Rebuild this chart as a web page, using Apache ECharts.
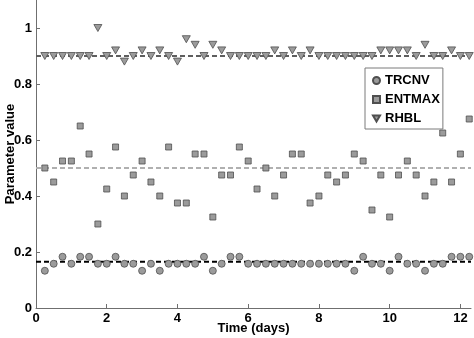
<!DOCTYPE html>
<html>
<head>
<meta charset="utf-8">
<script src="https://cdn.jsdelivr.net/npm/echarts@6/dist/echarts.min.js"></script>
<style>
  html, body { margin: 0; padding: 0; background: #fff; }
  #chart { width: 474px; height: 338px; }
</style>
</head>
<body>
<div id="chart"></div>
<script>
// Sampling times (days)
const days = [
  0.25, 0.5, 0.75, 1.0, 1.25, 1.5, 1.75, 2.0, 2.25, 2.5, 2.75, 3.0,
  3.25, 3.5, 3.75, 4.0, 4.25, 4.5, 4.75, 5.0, 5.25, 5.5, 5.75, 6.0,
  6.25, 6.5, 6.75, 7.0, 7.25, 7.5, 7.75, 8.0, 8.25, 8.5, 8.75, 9.0,
  9.25, 9.5, 9.75, 10.0, 10.25, 10.5, 10.75, 11.0, 11.25, 11.5, 11.75, 12.0,
  12.25
];

// Parameter estimates per time
const trcnv = [
  0.133, 0.158, 0.183, 0.158, 0.183, 0.183, 0.158, 0.158, 0.183, 0.158, 0.158, 0.133,
  0.158, 0.133, 0.158, 0.158, 0.158, 0.158, 0.183, 0.133, 0.158, 0.183, 0.183, 0.158,
  0.158, 0.158, 0.158, 0.158, 0.158, 0.158, 0.158, 0.158, 0.158, 0.158, 0.158, 0.133,
  0.183, 0.158, 0.158, 0.133, 0.183, 0.158, 0.158, 0.133, 0.158, 0.158, 0.183, 0.183,
  0.183
];
const entmax = [
  0.5, 0.45, 0.525, 0.525, 0.65, 0.55, 0.3, 0.425, 0.575, 0.4, 0.475, 0.525,
  0.45, 0.4, 0.575, 0.375, 0.375, 0.55, 0.55, 0.325, 0.475, 0.475, 0.575, 0.525,
  0.425, 0.5, 0.4, 0.475, 0.55, 0.55, 0.375, 0.4, 0.475, 0.45, 0.475, 0.55,
  0.525, 0.35, 0.475, 0.325, 0.475, 0.525, 0.475, 0.4, 0.45, 0.625, 0.45, 0.55,
  0.675
];
const rhbl = [
  0.9, 0.9, 0.9, 0.9, 0.9, 0.9, 1.0, 0.9, 0.92, 0.88, 0.9, 0.92,
  0.9, 0.92, 0.9, 0.88, 0.96, 0.94, 0.9, 0.94, 0.92, 0.9, 0.9, 0.9,
  0.9, 0.9, 0.92, 0.9, 0.92, 0.9, 0.92, 0.9, 0.9, 0.9, 0.9, 0.9,
  0.9, 0.9, 0.92, 0.92, 0.92, 0.92, 0.9, 0.94, 0.9, 0.9, 0.92, 0.9,
  0.9
];

// Reference (mean) levels drawn as dashed lines
const refTrcnv = 0.165;
const refEntmax = 0.5;
const refRhbl = 0.9;

// Axis ticks
const xTicks = [0, 2, 4, 6, 8, 10, 12];
const yTicks = [0, 0.2, 0.4, 0.6, 0.8, 1];
const xRange = [0, 12.3];
const yRange = [0, 1.1];

const pairs = (ys) => days.map((d, i) => [d, ys[i]]);
const hline = (v) => [[xRange[0], v], [xRange[1], v]];

const fontFam = '"Liberation Sans", Arial, Helvetica, sans-serif';
const markerFill = '#9b9b9b';
const markerEdge = '#4f4f4f';
const triDown = 'path://M0,0L10,0L5,8.5Z';
const boldText = { fontFamily: fontFam, fontSize: 13, fontWeight: 'bold', color: '#000' };

const chart = echarts.init(document.getElementById('chart'), null, { renderer: 'canvas' });

const refLine = (name, v, color) => ({
  name: name,
  type: 'line',
  data: hline(v),
  showSymbol: false,
  symbol: 'none',
  silent: true,
  z: 1,
  lineStyle: { color: color, width: 2, type: [5, 3] }
});

const scatter = (name, ys, symbol, size) => ({
  name: name,
  type: 'scatter',
  data: pairs(ys),
  symbol: symbol,
  symbolSize: size,
  z: 3,
  itemStyle: { color: markerFill, borderColor: markerEdge, borderWidth: 0.8, opacity: 1 }
});

chart.setOption({
  animation: false,
  backgroundColor: '#fff',
  textStyle: { fontFamily: fontFam },
  grid: { left: 36, right: 3, top: 0, bottom: 30, containLabel: false, outerBoundsMode: 'none' },
  legend: {
    orient: 'vertical',
    left: 365,
    top: 68,
    padding: [6, 3, 4, 7],
    itemGap: 6,
    itemWidth: 7,
    itemHeight: 7,
    backgroundColor: '#fff',
    borderColor: '#7a7a7a',
    borderWidth: 1,
    textStyle: boldText,
    data: [
      { name: 'TRCNV', icon: 'circle' },
      { name: 'ENTMAX', icon: 'rect' },
      { name: 'RHBL', icon: triDown }
    ]
  },
  xAxis: {
    type: 'value',
    min: xRange[0],
    max: xRange[1],
    interval: 2,
    name: 'Time (days)',
    nameLocation: 'middle',
    nameGap: 14,
    nameMoveOverlap: false,
    nameTextStyle: boldText,
    axisLine: { lineStyle: { color: '#6f6f6f', width: 1 } },
    axisTick: { inside: true, length: 4, lineStyle: { color: '#6f6f6f' }, customValues: xTicks },
    axisLabel: Object.assign({ customValues: xTicks, margin: 4 }, boldText),
    splitLine: { show: false }
  },
  yAxis: {
    type: 'value',
    min: yRange[0],
    max: yRange[1],
    interval: 0.2,
    name: 'Parameter value',
    nameLocation: 'middle',
    nameGap: 19,
    nameRotate: 90,
    nameMoveOverlap: false,
    nameTextStyle: boldText,
    axisLine: { show: true, lineStyle: { color: '#6f6f6f', width: 1 } },
    axisTick: { show: true, inside: true, length: 4, lineStyle: { color: '#6f6f6f' }, customValues: yTicks },
    axisLabel: Object.assign({
      customValues: yTicks,
      margin: 4,
      formatter: (v) => String(Math.round(v * 10) / 10)
    }, boldText),
    splitLine: { show: false }
  },
  series: [
    refLine('RHBL mean', refRhbl, '#5e5e5e'),
    refLine('ENTMAX mean', refEntmax, '#b0b0b0'),
    refLine('TRCNV mean', refTrcnv, '#000'),
    scatter('TRCNV', trcnv, 'circle', 7),
    scatter('ENTMAX', entmax, 'rect', 6),
    scatter('RHBL', rhbl, triDown, [8, 7])
  ]
});
</script>
</body>
</html>
